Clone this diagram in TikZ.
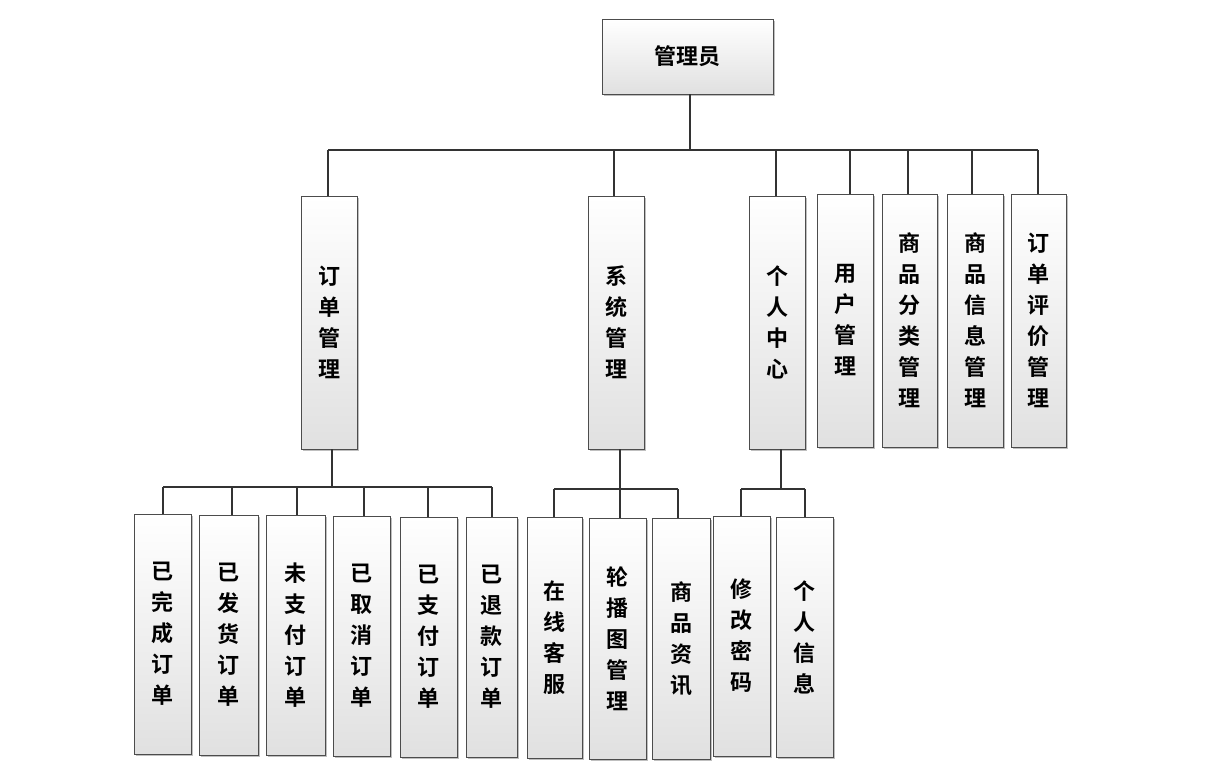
\documentclass[tikz,border=0pt]{standalone}
\usepackage{fontspec}
\newfontfamily\cjk{Noto Sans CJK SC}[BoldFont={Noto Sans CJK SC Bold}]
\usetikzlibrary{shadows}
\begin{document}
\begin{tikzpicture}[x=1pt,y=-1pt,
 box/.style={draw=black!70,line width=0.6pt,top color=white,bottom color=black!12,
   drop shadow={shadow xshift=2pt,shadow yshift=-2pt,fill=black!25,opacity=1},
   font=\cjk\bfseries\fontsize{22}{31}\selectfont,align=center,inner sep=0pt},
 ln/.style={draw=black!80,line width=1.4pt}]
\useasboundingbox (0,0) rectangle (1214,765);
\node[box,minimum width=171,minimum height=75] (root) at (687.5,56.5) {管理员};
% level 2
\foreach \n/\x/\w/\t/\b/\s in {
 dd/329/56/196/449/订\\单\\管\\理,
 xt/616/56/196/449/系\\统\\管\\理,
 gr/777/56/196/449/个\\人\\中\\心,
 yh/845/56/194/447/用\\户\\管\\理,
 fl/909.5/55/194/447/商\\品\\分\\类\\管\\理,
 xx/975/56/194/447/商\\品\\信\\息\\管\\理,
 pj/1038.5/55/194/447/订\\单\\评\\价\\管\\理}
 \node[box,minimum width=\w,minimum height=\b-\t] (\n) at (\x,{(\t+\b)/2}) {\s};
% level 3
\foreach \n/\x/\w/\t/\b/\s in {
 a1/162.5/57/514/754/已\\完\\成\\订\\单,
 a2/228.5/59/515/755/已\\发\\货\\订\\单,
 a3/295.5/59/515/755/未\\支\\付\\订\\单,
 a4/361.5/57/516/756/已\\取\\消\\订\\单,
 a5/428.5/57/517/757/已\\支\\付\\订\\单,
 a6/491.5/51/517/757/已\\退\\款\\订\\单,
 b1/554.5/55/517/758/在\\线\\客\\服,
 b2/617.5/57/518/759/轮\\播\\图\\管\\理,
 b3/681/58/518/759/商\\品\\资\\讯,
 c1/741.5/57/516/756/修\\改\\密\\码,
 c2/804.5/57/517/757/个\\人\\信\\息}
 \node[box,minimum width=\w,minimum height=\b-\t] (\n) at (\x,{(\t+\b)/2}) {\s};
% connectors
\coordinate (r1) at (690,150);
\draw[ln] (root.south -| r1) -- (r1);
\draw[ln] (328,150) -- (1038,150);
\foreach \n/\x in {dd/328,xt/614,gr/776,yh/850,fl/908,xx/972,pj/1038}
 \draw[ln] (\x,150) -- (\x,{0}|- \n.north);
\draw[ln] (332,0 |- dd.south) -- (332,487);
\draw[ln] (163,487) -- (492,487);
\foreach \n/\x in {a1/163,a2/232,a3/297,a4/364,a5/428,a6/492}
 \draw[ln] (\x,487) -- (\x,0 |- \n.north);
\draw[ln] (620,0 |- xt.south) -- (620,489);
\draw[ln] (554,489) -- (678,489);
\foreach \n/\x in {b1/554,b2/620,b3/678}
 \draw[ln] (\x,489) -- (\x,0 |- \n.north);
\draw[ln] (781,0 |- gr.south) -- (781,489);
\draw[ln] (741,489) -- (805,489);
\foreach \n/\x in {c1/741,c2/805}
 \draw[ln] (\x,489) -- (\x,0 |- \n.north);
\end{tikzpicture}
\end{document}
